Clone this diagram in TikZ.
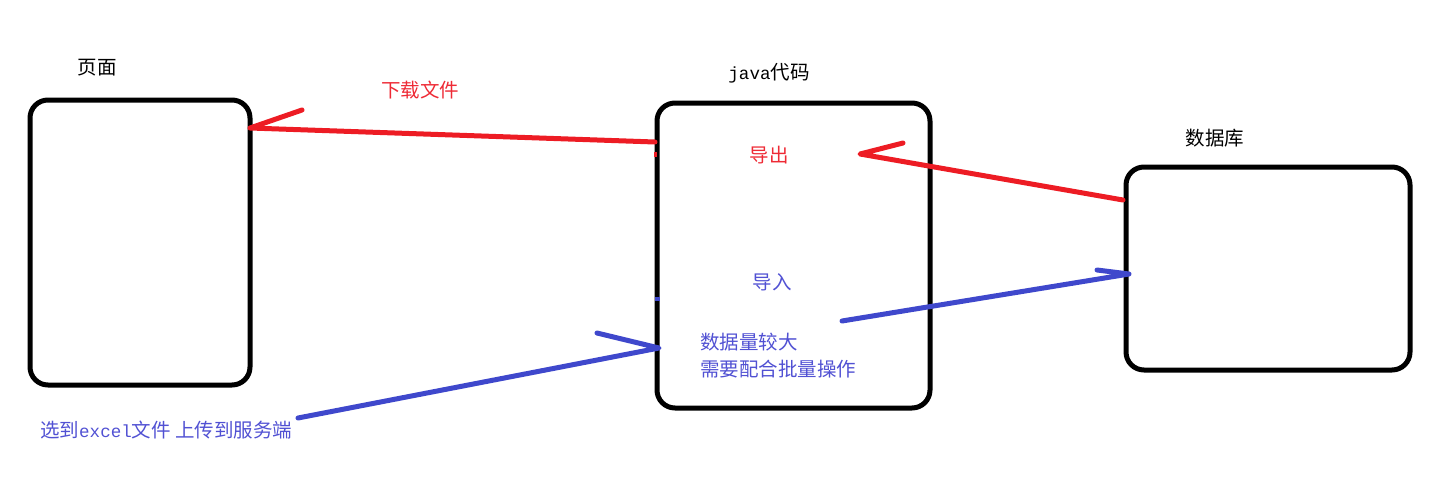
\documentclass[tikz,border=0pt]{standalone}
\usepackage{fontspec}
\setmainfont{Noto Sans CJK SC}
\newfontfamily\monof[Scale=0.9]{Liberation Mono}
\definecolor{pred}{HTML}{ED1C24}
\definecolor{pblue}{HTML}{3F48CC}
\definecolor{tred}{HTML}{EE2A35}
\definecolor{tblue}{HTML}{5151D3}
\tikzset{
  box/.style={draw=black, line width=5pt, rounded corners=18pt, inner sep=0pt},
  lbl/.style={inner sep=0pt, font=\fontsize{19.5}{27}\selectfont},
  redline/.style={draw=pred, line width=5pt, line cap=round, line join=round},
  blueline/.style={draw=pblue, line width=5pt, line cap=round, line join=round},
}
\begin{document}
\begin{tikzpicture}[x=1pt,y=-1pt]
\useasboundingbox (0,0) rectangle (1448,490);
% boxes
\node[box, minimum width=220pt, minimum height=285pt] (page) at (140,242.5) {};
\node[box, minimum width=273pt, minimum height=305pt] (java) at (793.5,255.5) {};
\node[box, minimum width=284pt, minimum height=203pt] (db) at (1268,268.5) {};
% titles
\node[lbl] (tpage) at (97,68) {页面};
\node[lbl] (tjava) at (769,73) {{\monof java}代码};
\node[lbl] (tdb) at (1215,138) {数据库};
% labels
\node[lbl, text=tred] (tdown) at (420,90) {下载文件};
\node[lbl, text=tred] (texp) at (769,155) {导出};
\node[lbl, text=tblue] (timp) at (772,282) {导入};
\node[lbl, text=tblue, anchor=west, align=left] (tbig) at (700,356) {数据量较大\\需要配合批量操作};
\node[lbl, text=tblue, anchor=west] (tup) at (40,430) {选到{\monof excel}文件 上传到服务端};
% connector points
\coordinate (a1s) at (655,142);
\coordinate (a1e) at (250,128);
\coordinate (a1b) at (302,110);
\coordinate (a2s) at (1123,200);
\coordinate (a2e) at (860,154);
\coordinate (a2b) at (903,143);
\coordinate (b1s) at (298,418);
\coordinate (b1e) at (659,348);
\coordinate (b1b) at (597,333);
\coordinate (b2s) at (842,321);
\coordinate (b2e) at (1129,274);
\coordinate (b2b) at (1097,270);
\coordinate (m1a) at (655,152);
\coordinate (m1b) at (655,157);
\coordinate (m2a) at (655,299);
\coordinate (m2b) at (660,299);
% red arrows
\draw[redline] (a1s) -- (a1e) -- (a1b);
\draw[redline] (a2s) -- (a2e) -- (a2b);
\draw[draw=pred, line width=3pt] (m1a) -- (m1b);
% blue arrows
\draw[blueline] (b1s) -- (b1e) -- (b1b);
\draw[blueline] (b2s) -- (b2e) -- (b2b);
\draw[draw=pblue, line width=4pt] (m2a) -- (m2b);
\end{tikzpicture}
\end{document}
